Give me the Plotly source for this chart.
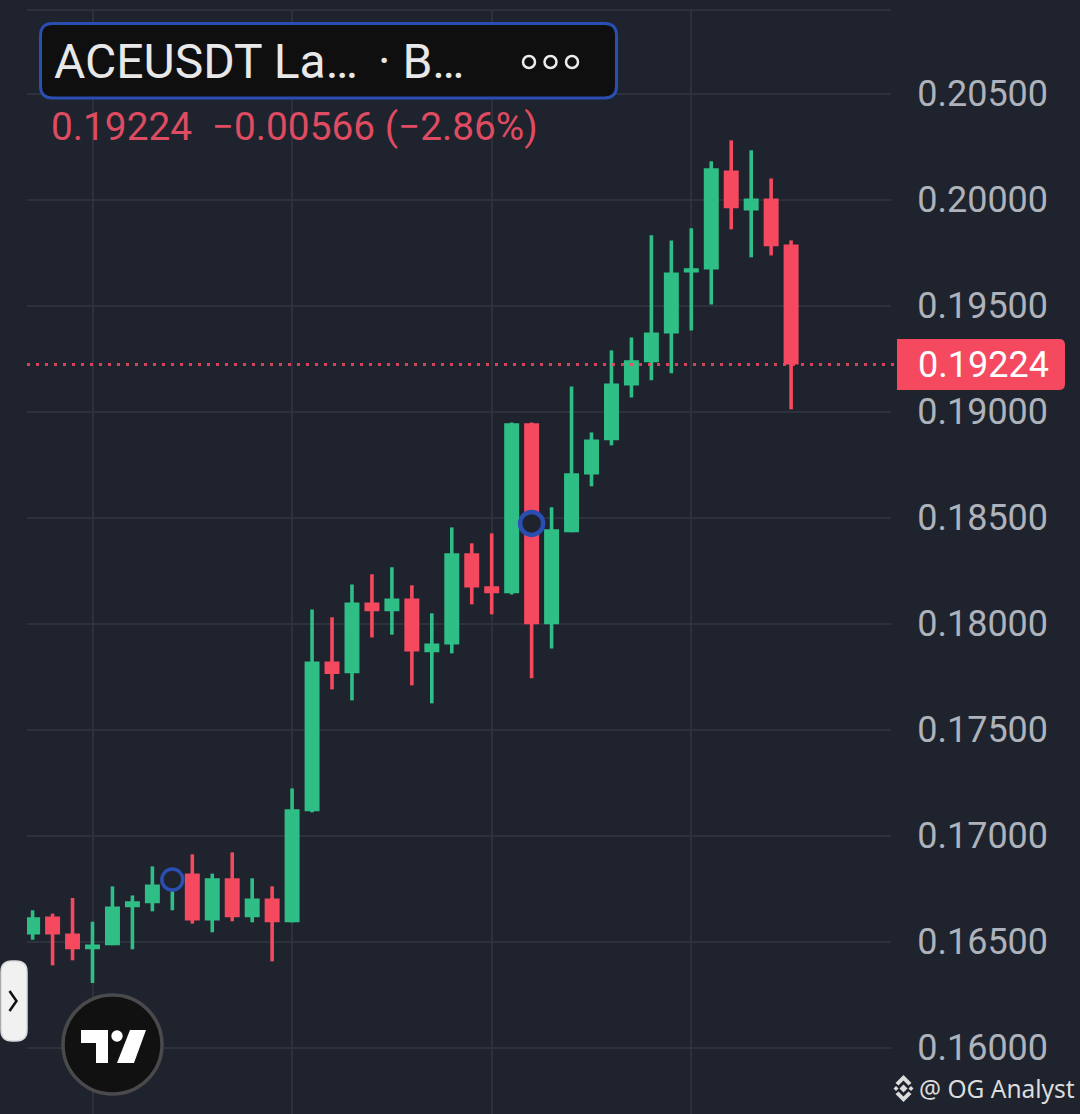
import plotly.graph_objects as go

W, H = 1080, 1114

opens = [.16535,.16620,.16540,.16465,.16484,.16663,.16682,.16752,.16823,.16601,
         .16800,.16616,.16705,.16592,.17116,.17823,.17767,.18101,.18059,.18120,
         .17866,.17903,.18333,.18177,.18144,.18946,.17998,.18432,.18705,.18866,
         .19125,.19234,.19370,.19658,.19672,.20139,.19950,.20007,.19790]
highs = [.16649,.16633,.16707,.16595,.16762,.16719,.16856,.16838,.16913,.16822,
         .16922,.16800,.16762,.17224,.18068,.18031,.18186,.18234,.18267,.18182,
         .18050,.18455,.18380,.18427,.18950,.18950,.18550,.19120,.18903,.19290,
         .19351,.19833,.19809,.19866,.20182,.20281,.20234,.20101,.19809]
lows = [.16510,.16389,.16413,.16306,.16484,.16465,.16644,.16649,.16586,.16545,
        .16597,.16592,.16408,.16592,.17111,.17691,.17639,.17936,.17949,.17710,
        .17625,.17861,.18092,.18045,.18139,.17743,.17884,.18432,.18649,.18842,
        .19068,.19149,.19182,.19384,.19507,.19861,.19729,.19738,.19012]
closes = [.16616,.16535,.16465,.16488,.16667,.16691,.16770,.16828,.16601,.16800,
          .16616,.16705,.16592,.17125,.17823,.17763,.18101,.18059,.18120,.17870,
          .17908,.18333,.18172,.18144,.18946,.17998,.18446,.18710,.18870,.19134,
          .19243,.19375,.19658,.19677,.20149,.19960,.20007,.19781,.19224]
bar_index = list(range(len(opens)))

signal_index = [7, 25]
signal_price = [.16794, .18474]
signal_size = [21, 23]
signal_ring = [3.5, 4.5]

last_price = .19224
y_ticks = [.16, .165, .17, .175, .18, .185, .19, .195, .20, .205]
x_grid = [3, 13, 23, 33, 43]

BG = "#1e232e"
GRID = "#2c313c"
GREEN = "#2fbe85"
RED = "#f5495f"
BLUE = "#2a4eb2"
AXIS_TXT = "#aeb2ba"


def px(x):
    return x / W


def py(y):
    return 1 - y / H


def path(points, close=True):
    d = "M" + " L".join(f"{px(a):.5f},{py(b):.5f}" for a, b in points)
    return d + (" Z" if close else "")


def rrect(x0, y0, x1, y1, r, corners=(1, 1, 1, 1)):
    tl, tr, br, bl = [r * c for c in corners]
    return (f"M{px(x0+tl):.5f},{py(y0):.5f} L{px(x1-tr):.5f},{py(y0):.5f} "
            f"Q{px(x1):.5f},{py(y0):.5f} {px(x1):.5f},{py(y0+tr):.5f} "
            f"L{px(x1):.5f},{py(y1-br):.5f} Q{px(x1):.5f},{py(y1):.5f} {px(x1-br):.5f},{py(y1):.5f} "
            f"L{px(x0+bl):.5f},{py(y1):.5f} Q{px(x0):.5f},{py(y1):.5f} {px(x0):.5f},{py(y1-bl):.5f} "
            f"L{px(x0):.5f},{py(y0+tl):.5f} Q{px(x0):.5f},{py(y0):.5f} {px(x0+tl):.5f},{py(y0):.5f} Z")


def circle(cx, cy, r, **kw):
    return dict(type="circle", xref="paper", yref="paper",
                x0=px(cx - r), x1=px(cx + r), y0=py(cy + r), y1=py(cy - r), layer="above", **kw)


def shape_path(d, fill=None, line=None, lw=0):
    return dict(type="path", xref="paper", yref="paper", path=d, layer="above",
                fillcolor=fill or "rgba(0,0,0,0)",
                line=dict(color=line or "rgba(0,0,0,0)", width=lw))


def text(x, y, s, size, color, family="Roboto", anchor="left"):
    return dict(x=px(x), y=py(y), xref="paper", yref="paper", text=s, showarrow=False,
                xanchor=anchor, yanchor="middle", align=anchor,
                font=dict(family=family, size=size, color=color))


fig = go.Figure()

fig.add_trace(go.Candlestick(
    x=bar_index, open=opens, high=highs, low=lows, close=closes,
    increasing=dict(fillcolor=GREEN, line=dict(color=GREEN, width=0)),
    decreasing=dict(fillcolor=RED, line=dict(color=RED, width=0)),
    whiskerwidth=0, hoverinfo="skip", showlegend=False))

for is_up, colour in ((True, GREEN), (False, RED)):
    wx, wy = [], []
    for i, o, h, l, c in zip(bar_index, opens, highs, lows, closes):
        if (c >= o) == is_up:
            wx += [i, i, None]
            wy += [l, h, None]
    fig.add_trace(go.Scatter(x=wx, y=wy, mode="lines", line=dict(color=colour, width=3.6),
                             hoverinfo="skip", showlegend=False))

fig.add_trace(go.Scatter(
    x=signal_index, y=signal_price, mode="markers",
    marker=dict(size=signal_size, color=BG, opacity=1, line=dict(color=BLUE, width=signal_ring)),
    hoverinfo="skip", showlegend=False))

shapes = [
    dict(type="line", xref="paper", yref="y", x0=px(27), x1=px(897), y0=last_price, y1=last_price,
         layer="above", line=dict(color="rgba(245,73,95,0.85)", width=3, dash="3px,6px")),
    # last price tag
    shape_path(rrect(897, 339, 1065, 390, 6, (0, 1, 1, 0)), fill=RED),
    # header box
    shape_path(rrect(40.5, 23.5, 616.5, 98, 12), fill="#0f0f10", line=BLUE, lw=3),
    # side handle
    shape_path(rrect(1, 961, 27, 1041, 11), fill="#f1f1f2", line="#d9d9db", lw=1.5),
    shape_path(path([(9.5, 991), (16.5, 1001), (9.5, 1011)], close=False), line="#111111", lw=2.5),
    # TradingView badge
    circle(112.5, 1044.5, 49.5, fillcolor="#111112", line=dict(color="#4a4a4c", width=3.5)),
    shape_path(path([(81, 1030), (108, 1030), (108, 1063), (96, 1063), (96, 1043), (81, 1043)]), fill="#ffffff"),
    circle(117, 1036, 5.7, fillcolor="#ffffff", line=dict(width=0)),
    shape_path(path([(130, 1030), (146, 1030), (134, 1063), (117, 1063)]), fill="#ffffff"),
]
# the three-dot menu
for cx in (529, 550.5, 572):
    shapes.append(circle(cx, 62, 6, fillcolor="rgba(0,0,0,0)", line=dict(color="#ececec", width=2.5)))
# exchange mark next to the watermark
MC = "#dcdcdc"
c = (903.5, 1088.5)
shapes += [
    shape_path(path([(c[0], c[1]-4), (c[0]+4, c[1]), (c[0], c[1]+4), (c[0]-4, c[1])]), fill=MC),
    shape_path(path([(c[0]-10, c[1]), (c[0]-7.5, c[1]-2.5), (c[0]-5, c[1]), (c[0]-7.5, c[1]+2.5)]), fill=MC),
    shape_path(path([(c[0]+10, c[1]), (c[0]+7.5, c[1]-2.5), (c[0]+5, c[1]), (c[0]+7.5, c[1]+2.5)]), fill=MC),
    shape_path(path([(c[0]-8, c[1]-5.5), (c[0], c[1]-13.5), (c[0]+8, c[1]-5.5), (c[0]+5, c[1]-3), (c[0], c[1]-8), (c[0]-5, c[1]-3)]), fill=MC),
    shape_path(path([(c[0]-8, c[1]+5.5), (c[0], c[1]+13.5), (c[0]+8, c[1]+5.5), (c[0]+5, c[1]+3), (c[0], c[1]+8), (c[0]-5, c[1]+3)]), fill=MC),
]

annotations = [
    text(52, 62, "ACEUSDT La…", 48, "#e8e8e8"),
    text(376, 62, "· B…", 48, "#e8e8e8"),
    text(49, 126, "0.19224\u2002\u22120.00566 (\u22122.86%)", 38.8, "#df4b60"),
    text(983, 365, f"{last_price:.5f}", 36, "#ffffff", anchor="center"),
    text(917, 1088, "@ OG Analyst", 24.5, "#dcdcdc", family="Noto Sans"),
]

fig.update_layout(
    width=W, height=H, margin=dict(l=0, r=0, t=0, b=0),
    paper_bgcolor=BG, plot_bgcolor=BG, showlegend=False, boxgap=0.25, boxgroupgap=0, hovermode=False,
    shapes=shapes, annotations=annotations,
    xaxis=dict(domain=[px(27), px(891)], range=[-0.2816, 43.005], side="top",
               rangeslider=dict(visible=False), tickmode="array", tickvals=x_grid,
               showticklabels=False, ticks="", showgrid=True, gridcolor=GRID, gridwidth=2,
               zeroline=False, showline=True, linecolor=GRID, linewidth=2),
    yaxis=dict(domain=[0, py(11)], range=[.15688, .20891], side="right",
               tickmode="array", tickvals=y_ticks, tickformat=".5f",
               ticks="outside", ticklen=18, tickcolor="rgba(0,0,0,0)",
               tickfont=dict(family="Roboto", size=36, color=AXIS_TXT),
               showgrid=True, gridcolor=GRID, gridwidth=2, zeroline=False, showline=False),
)

fig.write_html("out.html", config=dict(displayModeBar=False),
               post_script="document.body.style.margin='0';document.documentElement.style.overflow='hidden';")
